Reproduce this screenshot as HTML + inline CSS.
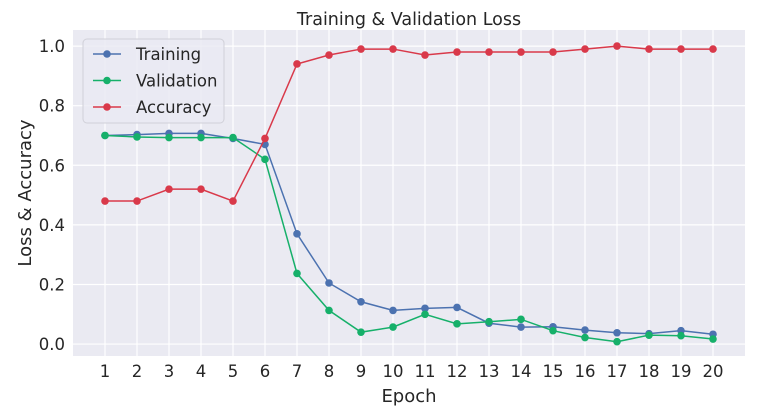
<!DOCTYPE html>
<html><head><meta charset="utf-8"><style>
body{margin:0;background:#fff;font-family:"Liberation Sans","DejaVu Sans",sans-serif}
svg text{font-family:"DejaVu Sans","Liberation Sans",sans-serif;fill:#262626}
</style></head><body>
<svg id="chart" width="772" height="411" xmlns="http://www.w3.org/2000/svg"></svg>
<script>
const epochs=[1,2,3,4,5,6,7,8,9,10,11,12,13,14,15,16,17,18,19,20];
const training=[0.70,0.703,0.707,0.707,0.69,0.67,0.37,0.205,0.142,0.113,0.12,0.123,0.07,0.057,0.058,0.047,0.038,0.035,0.045,0.033];
const validation=[0.70,0.695,0.693,0.693,0.693,0.62,0.237,0.113,0.04,0.057,0.10,0.068,0.075,0.083,0.045,0.022,0.008,0.03,0.028,0.017];
const accuracy=[0.48,0.48,0.52,0.52,0.48,0.69,0.94,0.97,0.99,0.99,0.97,0.98,0.98,0.98,0.98,0.99,1.0,0.99,0.99,0.99];
const yTicks=[0.0,0.2,0.4,0.6,0.8,1.0];
const NS="http://www.w3.org/2000/svg",svg=document.getElementById('chart');
const L=73,R=745,T=30,B=356,x0=0,x1=21,y0=-0.04,y1=1.054;
const sx=v=>L+(v-x0)/(x1-x0)*(R-L), sy=v=>B-(v-y0)/(y1-y0)*(B-T);
function mk(t,a,p){const e=document.createElementNS(NS,t);for(const k in a)e.setAttribute(k,a[k]);(p||svg).appendChild(e);return e;}
let bg=mk('rect',{x:L,y:T,width:R-L,height:B-T,fill:'#eaeaf2'});


yTicks.forEach(v=>{
 let g=mk('line',{x1:L,x2:R,y1:sy(v),y2:sy(v),stroke:'#fff','stroke-width':1.2});
 
 
 let t=mk('text',{x:L-8,y:sy(v)+6,'text-anchor':'end','font-size':16.5});t.textContent=v.toFixed(1);
 
 
});
epochs.forEach(v=>{
 let g=mk('line',{x1:sx(v),x2:sx(v),y1:T,y2:B,stroke:'#fff','stroke-width':1.2});
 
 
 let t=mk('text',{x:sx(v),y:B+21,'text-anchor':'middle','font-size':16.5});t.textContent=v;
 
 
});
const series=[['Training',training,'#4c72b0'],['Validation',validation,'#16b06a'],['Accuracy',accuracy,'#d9394a']];
series.forEach(([n,d,c])=>{
 let p=mk('polyline',{points:d.map((v,i)=>sx(epochs[i])+','+sy(v)).join(' '),fill:'none',stroke:c,'stroke-width':1.5});
 
 
 d.forEach((v,i)=>{let m=mk('circle',{cx:sx(epochs[i]),cy:sy(v),r:3.8,fill:c});
  
  });
});
let lg=mk('g',{});


mk('rect',{x:83,y:39,width:141,height:84,rx:4,fill:'#eaeaf2','fill-opacity':0.8,stroke:'#d0d0d8'},lg);
series.forEach(([n,d,c],i)=>{const y=54+i*26.5;
 mk('line',{x1:93,x2:121,y1:y,y2:y,stroke:c,'stroke-width':1.5},lg);
 mk('circle',{cx:107,cy:y,r:3.8,fill:c},lg);
 let t=mk('text',{x:136,y:y+6,'font-size':16.5},lg);t.textContent=n;
 
 
});
let tt=mk('text',{x:(L+R)/2,y:25,'text-anchor':'middle','font-size':17.5});tt.textContent='Training & Validation Loss';


let xt=mk('text',{x:(L+R)/2,y:402,'text-anchor':'middle','font-size':18});xt.textContent='Epoch';


let yt=mk('text',{x:0,y:0,'text-anchor':'middle','font-size':18,transform:'translate(31,'+((T+B)/2)+') rotate(-90)'});yt.textContent='Loss & Accuracy';


</script>
</body></html>
